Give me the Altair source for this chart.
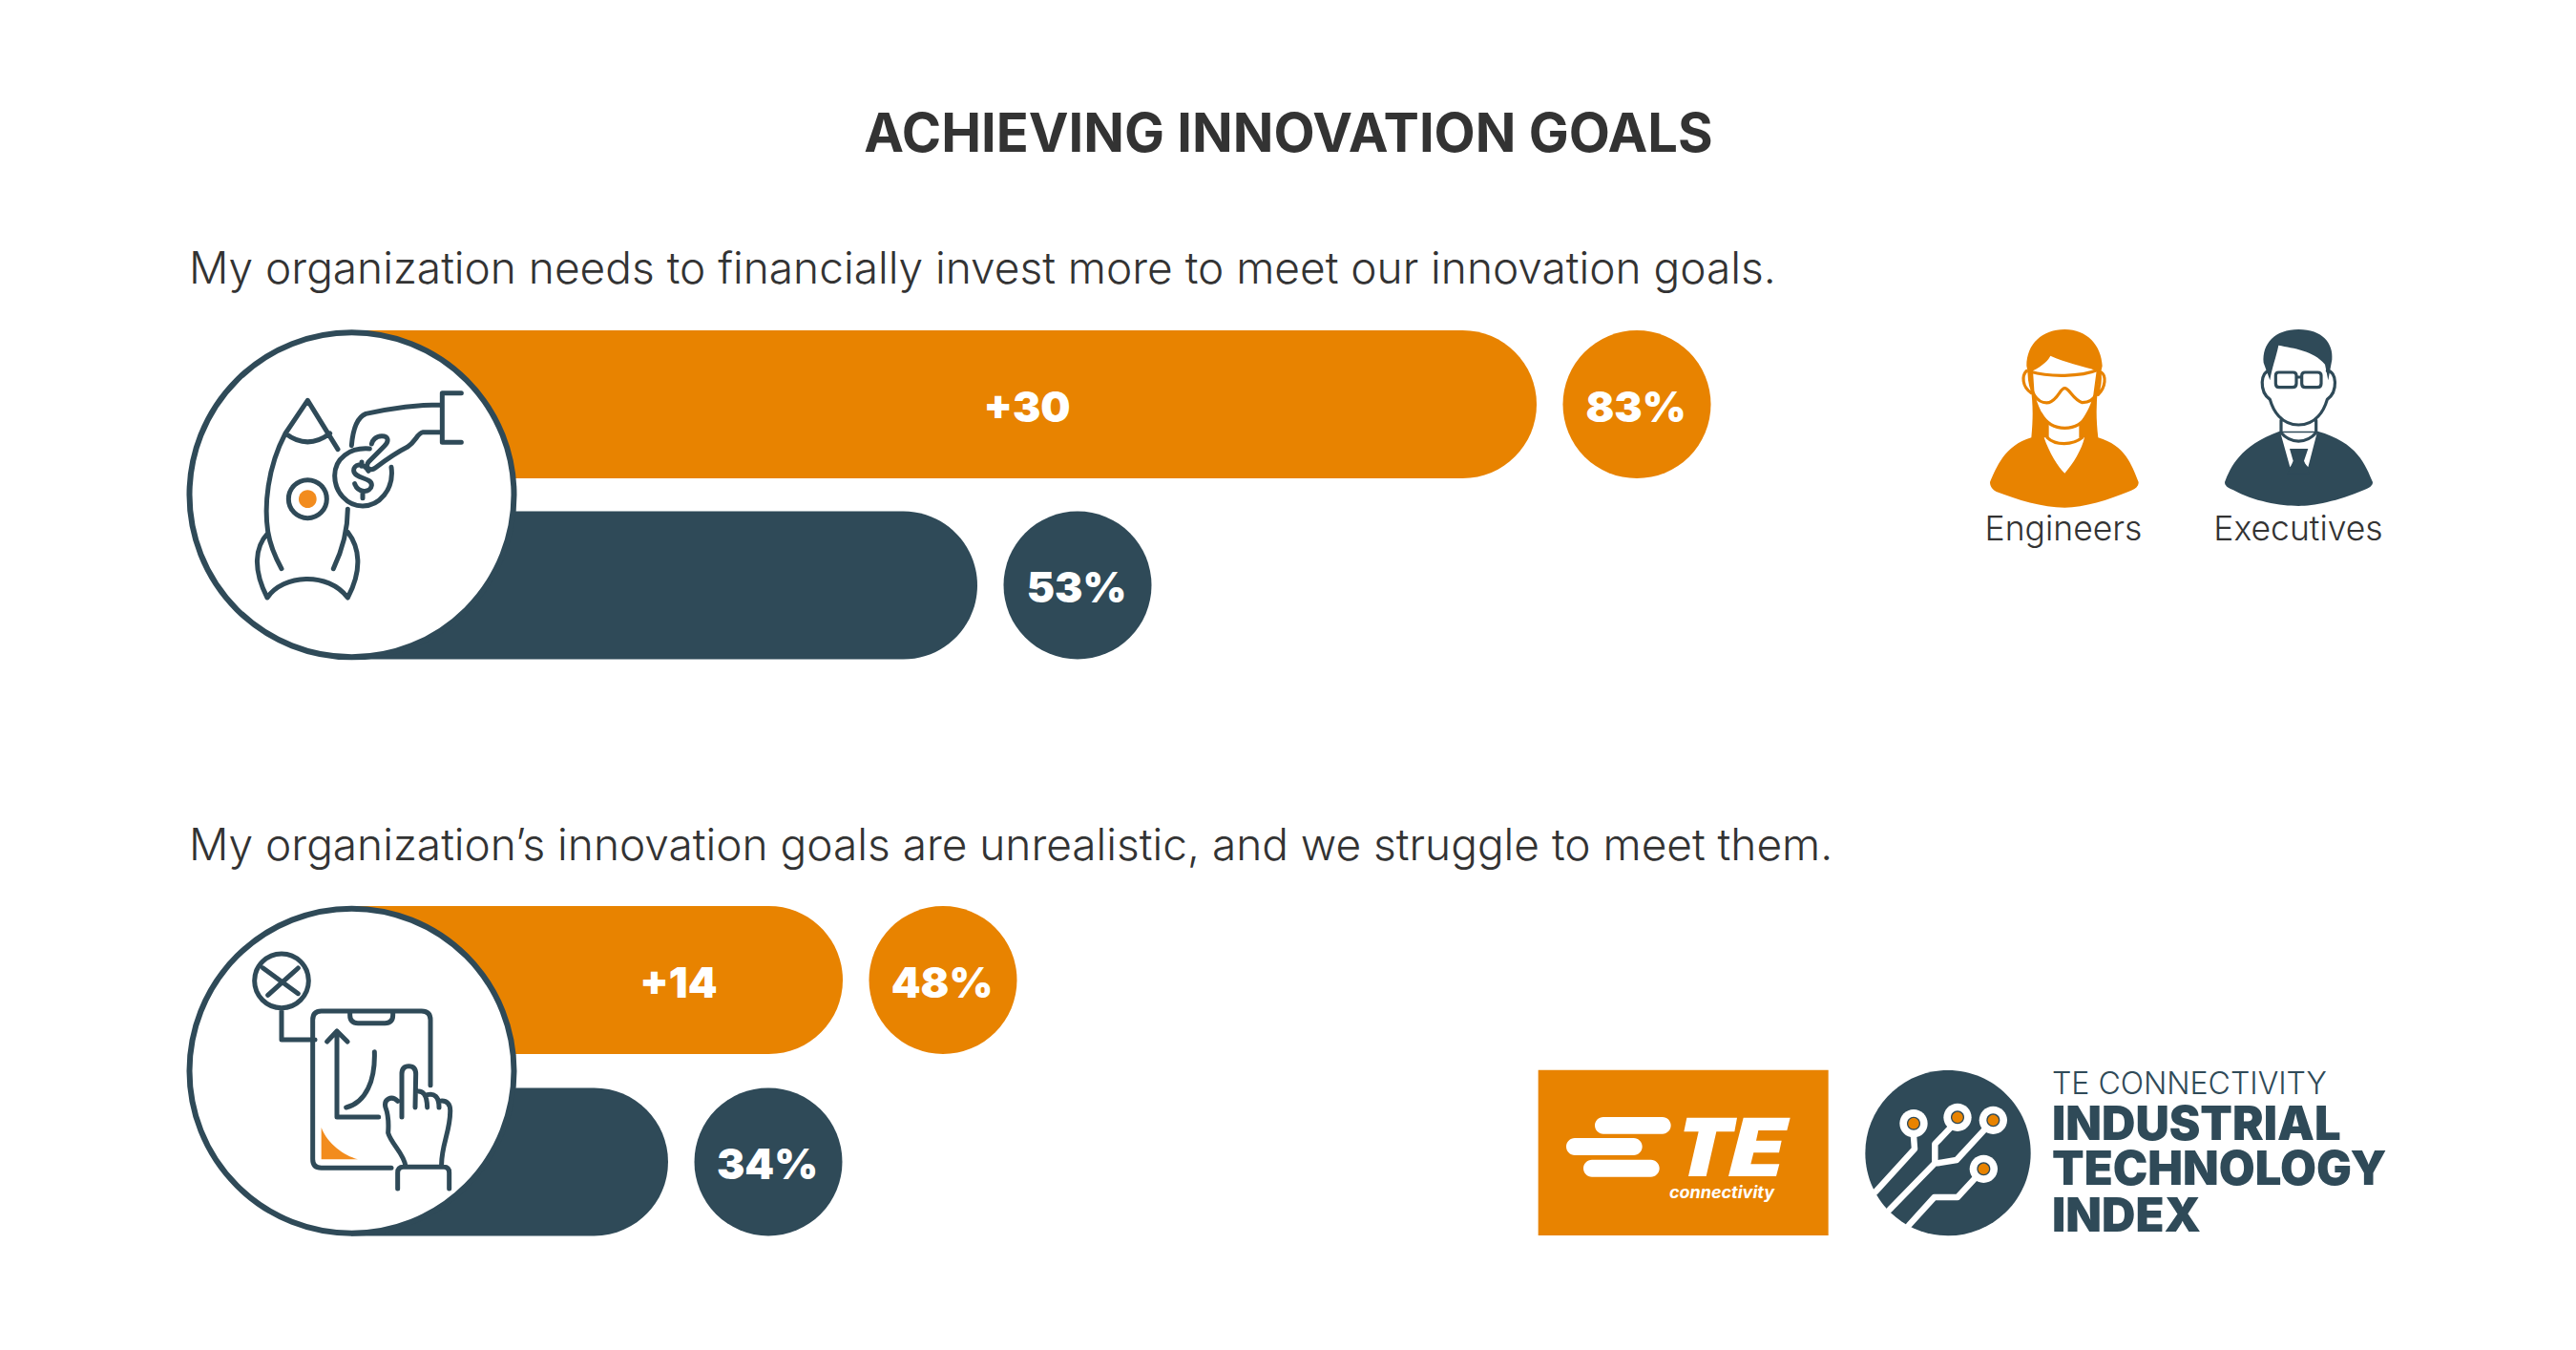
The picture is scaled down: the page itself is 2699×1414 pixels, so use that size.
import altair as alt
import pandas as pd

# ---- values
questions = ["q1", "q1", "q2", "q2"]
groups = ["Engineers", "Executives", "Engineers", "Executives"]
values = [83, 53, 48, 34]
rows = [0, 1, 2, 3]
labels = ["83%", "53%", "48%", "34%"]
gap_labels = ["+30", "+14"]
gap_rows = [0, 2]
title_text = "ACHIEVING INNOVATION GOALS"
sub_texts = ["My organization needs to financially invest more to meet our innovation goals.",
             "My organization\u2019s innovation goals are unrealistic, and we struggle to meet them."]
legend_names = ["Engineers", "Executives"]

ORANGE = "#E88300"
ORANGE2 = "#F28C1E"
DARK = "#2F4A58"
INK = "#333333"
FONT = "Inter"
OFF = 8

df = pd.DataFrame({"q": questions, "group": groups, "value": values, "row": rows,
                   "label": labels, "start": [0] * 4})

xs = alt.Scale(domain=[0, 34, 48, 53, 83], range=[360, 692, 875, 1016, 1602])
ys = alt.Scale(domain=[0, 1, 2, 3], range=[412, 605, 1018.5, 1212.5])
X = alt.X("value:Q", scale=xs, axis=None)
Y = alt.Y("row:Q", scale=ys, axis=None)
cs = alt.Scale(domain=legend_names, range=[ORANGE, DARK])
C = alt.Color("group:N", scale=cs, legend=None)
one = pd.DataFrame({"i": [0]})


def circ(cx, cy, r):
    k = 0.5523 * r
    return (f"M {cx-r} {cy} C {cx-r} {cy-k} {cx-k} {cy-r} {cx} {cy-r} "
            f"C {cx+k} {cy-r} {cx+r} {cy-k} {cx+r} {cy} "
            f"C {cx+r} {cy+k} {cx+k} {cy+r} {cx} {cy+r} "
            f"C {cx-k} {cy+r} {cx-r} {cy+k} {cx-r} {cy} Z")


def pill(x0, y0, x1, y1):
    r = (y1 - y0) / 2
    k = 0.5523 * r
    return (f"M {x0+r} {y0} L {x1-r} {y0} C {x1-r+k} {y0} {x1} {y0+r-k} {x1} {y0+r} "
            f"C {x1} {y0+r+k} {x1-r+k} {y1} {x1-r} {y1} L {x0+r} {y1} "
            f"C {x0+r-k} {y1} {x0} {y0+r+k} {x0} {y0+r} C {x0} {y0+r-k} {x0+r-k} {y0} {x0+r} {y0} Z")


def line_icon(path, ox, oy, color=DARK, sw=5):
    # paths are written in 3x crop units, hence size 4/9
    return alt.Chart(one).mark_point(shape=path, size=4 / 9, filled=False, stroke=color, strokeWidth=sw,
                                     strokeCap="round", strokeJoin="round", opacity=1).encode(
        x=alt.value(ox - OFF), y=alt.value(oy - OFF))


def fill_icon(path, ox, oy, color=DARK):
    return alt.Chart(one).mark_point(shape=path, size=4 / 9, filled=True, fill=color, strokeWidth=0,
                                     opacity=1).encode(x=alt.value(ox - OFF), y=alt.value(oy - OFF))


def txt(s, x, y, size, weight=400, color=INK, align="left", font=FONT, style=None):
    kw = {"fontStyle": style} if style else {}
    return alt.Chart(pd.DataFrame({"t": [s]})).mark_text(fontSize=size, fontWeight=weight, color=color, align=align,
                                                         baseline="middle", font=font, **kw).encode(
        text="t:N", x=alt.value(x - OFF), y=alt.value(y - OFF))


layers = []
layers.append(txt(title_text, 1350, 142, 56, 700, align="center"))
layers.append(txt(sub_texts[0], 198, 283, 46, 300))
layers.append(txt(sub_texts[1], 198, 887, 46, 300))

bars = alt.Chart(df).mark_bar(orient="horizontal", size=155, cornerRadiusTopRight=77.5,
                              cornerRadiusBottomRight=77.5).encode(x=X, x2="start:Q", y=Y, color=C)
dots = alt.Chart(df).mark_point(filled=True, size=155 ** 2, shape="circle", opacity=1, xOffset=105,
                                strokeWidth=0).encode(x=X, y=Y, color=C)
dot_text = alt.Chart(df).mark_text(xOffset=104, dy=5, color="white", fontSize=44, fontWeight=900, font=FONT,
                                   baseline="middle").encode(x=X, y=Y, text="label:N")
layers += [bars, dots, dot_text]

for lab, r, px in zip(gap_labels, gap_rows, [1068, 703]):
    layers.append(alt.Chart(pd.DataFrame({"t": [lab], "row": [r]})).mark_text(
        color="white", fontSize=44, fontWeight=900, font=FONT, baseline="middle", dy=5).encode(
        x=alt.value(px), y=Y, text="t:N"))

# white discs behind the pictograms
for cy_row in [0.5, 2.5]:
    layers.append(alt.Chart(pd.DataFrame({"row": [cy_row]})).mark_point(
        shape="circle", filled=True, fill="white", stroke=DARK, strokeWidth=6, size=340 ** 2, opacity=1).encode(
        x=alt.value(368.5 - OFF), y=Y))

# rocket pictogram
RO = (180, 330)
rocket = [
    "M 357 372 L 427 268 L 522 422",
    "M 357 372 Q 427 425 497 372",
    "M 357 372 C 300 480 290 600 302 680 C 310 730 330 770 345 797",
    "M 553 610 C 553 680 535 740 508 797",
    "M 302 685 C 260 730 255 800 300 888 C 350 815 490 805 553 888 C 600 800 590 730 553 682",
    circ(427, 578, 60),
    "M 690 478 C 700 550 650 600 600 600 C 550 600 512 555 512 505 C 512 450 560 415 622 420",
    "M 618 490 C 600 460 570 470 572 490 C 575 515 630 510 628 535 C 625 560 585 560 575 530",
    "M 597 462 L 597 475 M 600 560 L 600 575",
    "M 565 410 C 570 350 585 320 610 310 C 680 295 760 282 845 282",
    "M 845 368 L 790 368 C 770 372 770 395 740 415 C 710 430 680 450 640 480 C 625 492 605 480 618 462 L 668 412 C 685 395 680 380 660 380 C 640 380 630 395 628 405",
    "M 910 245 L 850 245 L 850 400 L 910 400",
]
layers.append(fill_icon(circ(427, 578, 28), *RO, color=ORANGE2))
layers.append(line_icon(" ".join(rocket), *RO))

# tablet pictogram
TO = (180, 935)
tablet = [
    circ(345, 277, 85),
    "M 287 237 L 397 317 M 397 237 L 302 322",
    "M 345 362 L 345 462 L 450 462",
    "M 690 865 L 470 865 Q 443 865 443 838 L 443 400 Q 443 372 470 372 L 785 372 Q 813 372 813 400 L 813 605",
    "M 560 372 L 560 385 Q 560 410 585 410 L 670 410 Q 695 410 695 385 L 695 372",
    "M 519 705 L 519 435 M 488 468 L 519 435 L 552 468 M 519 705 L 650 705",
    "M 548 675 C 610 660 640 590 637 500",
    "M 723 705 L 723 570 Q 723 545 745 545 Q 767 545 767 570 L 765 675",
    "M 767 625 C 790 620 802 635 803 675 M 803 635 C 825 630 840 640 840 675",
    "M 840 655 C 865 650 877 665 875 690 C 875 750 845 800 848 860",
    "M 710 655 C 690 635 665 650 672 675 C 685 710 680 745 680 755 C 690 790 730 820 735 860",
    "M 710 930 L 710 880 Q 710 862 728 862 L 855 862 Q 872 862 872 880 L 872 930",
]
layers.append(fill_icon("M 470 738 C 490 790 540 825 585 838 L 470 838 Z", *TO, color=ORANGE2))
layers.append(line_icon(" ".join(tablet), *TO))

# engineer
PO = (2050, 330)
layers.append(fill_icon(
    "M 235 385 C 245 280 235 230 220 160 C 220 90 270 45 340 45 C 410 45 455 95 458 160 C 440 230 435 300 445 385 "
    "C 530 410 550 470 572 525 C 572 540 560 548 540 555 C 480 580 400 605 340 605 C 270 605 190 580 125 555 "
    "C 110 548 105 535 105 525 C 125 480 150 410 235 385 Z", *PO, color=ORANGE))
layers.append(fill_icon(
    "M 240 175 C 270 160 290 140 295 128 C 340 150 400 160 440 175 L 430 250 C 420 300 385 340 385 345 "
    "L 385 385 L 402 385 C 395 420 365 470 340 497 C 320 480 290 430 275 385 L 290 385 L 290 340 C 270 320 255 280 245 250 Z",
    *PO, color="white"))
layers.append(line_icon(
    "M 232 178 C 290 195 390 195 445 172 M 228 180 C 230 240 250 280 290 275 C 320 265 325 230 340 230 "
    "C 355 230 365 265 395 275 C 440 275 455 230 450 180 M 220 175 C 205 190 205 225 235 245 "
    "M 455 180 C 470 190 470 225 445 250 M 285 385 C 310 410 365 410 395 385 "
    "M 265 310 C 285 345 315 355 340 355 C 365 355 395 345 415 310", *PO, color=ORANGE, sw=3.2))

# executive
layers.append(fill_icon(
    "M 843 525 C 860 480 890 410 1015 365 L 1135 365 C 1260 400 1285 470 1308 525 C 1308 535 1300 542 1280 550 "
    "C 1200 585 1120 600 1075 600 C 1020 600 930 585 870 550 C 850 542 843 535 843 525 Z", *PO))
layers.append(fill_icon("M 1018 370 L 1048 478 L 1075 445 L 1105 478 L 1133 370 Z", *PO, color="white"))
layers.append(fill_icon("M 1047 420 L 1105 420 L 1092 458 L 1110 500 L 1040 500 L 1058 458 Z", *PO))
layers.append(fill_icon(
    "M 965 150 C 960 90 1000 45 1075 45 C 1150 45 1185 90 1180 140 L 1168 205 L 1158 155 C 1120 110 1060 105 1012 95 "
    "C 1005 130 990 170 985 205 Z", *PO))
layers.append(line_icon(
    "M 985 175 C 955 175 950 240 985 265 C 995 300 1020 345 1075 345 C 1130 345 1155 300 1165 265 "
    "C 1200 240 1195 175 1165 175 M 1020 330 L 1020 370 C 1050 405 1100 405 1130 370 L 1130 330 "
    "M 1012 180 L 1058 180 Q 1068 180 1068 190 L 1068 215 Q 1068 227 1056 227 L 1014 227 Q 1003 227 1003 215 L 1003 190 Q 1003 180 1012 180 Z "
    "M 1095 180 L 1135 180 Q 1146 180 1146 190 L 1146 215 Q 1146 227 1134 227 L 1096 227 Q 1085 227 1085 215 L 1085 190 Q 1085 180 1095 180 Z "
    "M 1068 195 L 1085 195", *PO, sw=3.2))

layers.append(txt(legend_names[0], 2162, 555, 35.5, 300, align="center"))
layers.append(txt(legend_names[1], 2408, 555, 35.5, 300, align="center"))

# TE logo
LO = (1605, 1110)
layers.append(fill_icon("M 20 32 L 932 32 L 932 552 L 20 552 Z", *LO, color=ORANGE))
layers.append(fill_icon(" ".join([
    pill(198, 180, 437, 233), pill(108, 246, 347, 300), pill(162, 314, 401, 368),
    "M 487 182 L 645 182 L 637 226 L 580 226 L 548 366 L 492 366 L 524 226 L 478 226 Z",
    "M 665 182 L 812 182 L 802 222 L 712 222 L 705 254 L 785 254 L 777 292 L 697 292 L 688 328 L 778 328 L 768 366 L 618 366 Z",
]), *LO, color="white"))
layers.append(txt("connectivity", 1804, 1250, 18, 700, color="white", align="center", style="italic"))

# index logo
CO = (1945, 1110)
layers.append(fill_icon(circ(288, 293, 260), *CO))
layers.append(line_icon(
    "M 180 240 L 183 280 L 60 415 M 318 190 L 247 265 L 247 325 L 105 470 M 430 190 L 315 315 L 255 325 "
    "M 400 343 L 318 432 L 245 432 L 165 520", *CO, color="white", sw=6.5))
for cx, cy in [(180, 200), (318, 181), (430, 190), (400, 343)]:
    layers.append(fill_icon(circ(cx, cy, 44), *CO, color="white"))
    layers.append(fill_icon(circ(cx, cy, 21), *CO))
    layers.append(fill_icon(circ(cx, cy, 17), *CO, color=ORANGE))

layers.append(txt("TE CONNECTIVITY", 2150, 1136, 32, 300, color=DARK))
layers.append(txt("INDUSTRIAL", 2150, 1179, 49, 900, color=DARK))
layers.append(txt("TECHNOLOGY", 2150, 1226, 49, 900, color=DARK))
layers.append(txt("INDEX", 2150, 1275, 49, 900, color=DARK))

chart = alt.layer(*layers).resolve_scale(x="shared", y="shared").properties(
    width=2683, height=1396, padding=0, autosize=alt.AutoSizeParams(type="none"),
    background="white").configure_view(stroke=None)
chart.save("out.html", embed_options={"renderer": "svg", "actions": False})
